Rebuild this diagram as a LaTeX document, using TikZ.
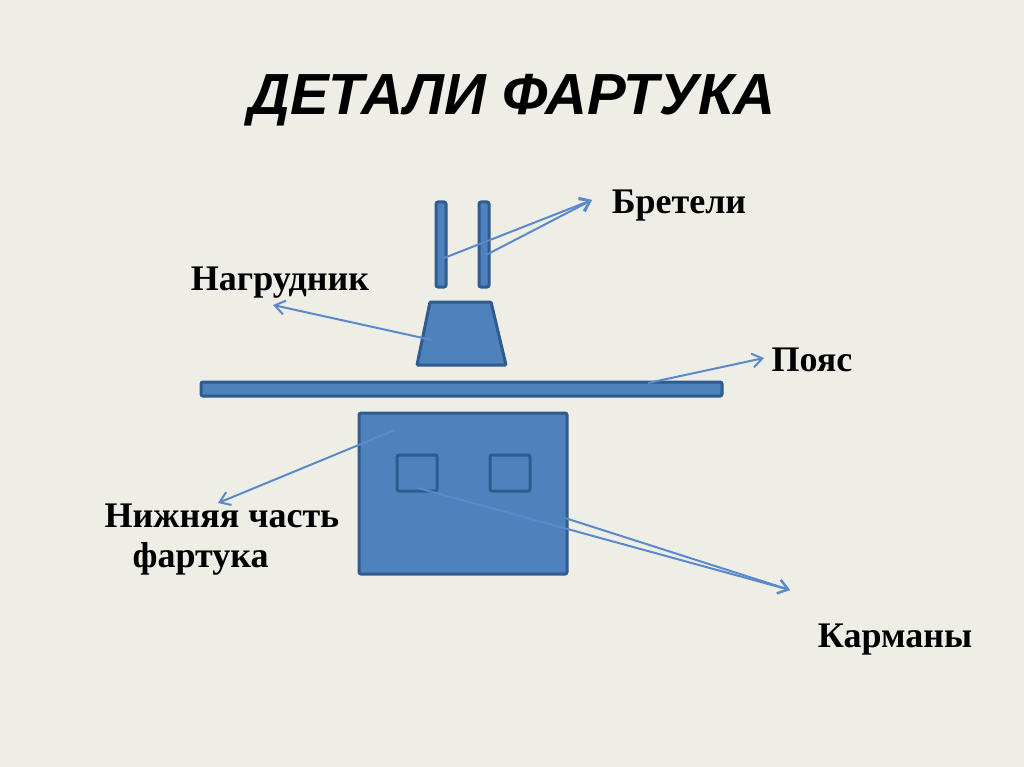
\documentclass[tikz,border=0pt]{standalone}
\usepackage{fontspec}
\setmainfont{Liberation Serif}
\newfontfamily\titlefont{Liberation Sans}
\begin{document}
\begin{tikzpicture}[x=1pt,y=-1pt,
  part/.style={fill=partfill,draw=partline,line width=3pt,rounded corners=2pt},
  lbl/.style={font=\fontsize{36}{40}\selectfont\bfseries,inner sep=0},
  ptr/.style={draw=ptrcol,line width=2pt,-{Straight Barb[length=10pt,width=14pt]}}]
\usetikzlibrary{arrows.meta}
\definecolor{bg}{HTML}{EEEDE6}
\definecolor{partfill}{HTML}{4F81BD}
\definecolor{partline}{HTML}{2F5C8F}
\definecolor{ptrcol}{HTML}{5A8ACB}
\fill[bg] (0,0) rectangle (1024,767);
\useasboundingbox (0,0) rectangle (1024,767);
\node[font=\titlefont\fontsize{58}{62}\selectfont\bfseries\itshape,inner sep=0] (title) at (512,100) {ДЕТАЛИ ФАРТУКА};
\draw[part] (436,202) rectangle (446,287);
\draw[part] (479,202) rectangle (489,287);
\draw[part,rounded corners=1pt] (430,302) -- (491,302) -- (506,365) -- (417,365) -- cycle;
\draw[part] (201,382) rectangle (722,396);
\draw[part] (359,413) rectangle (567,574);
\draw[part] (397,455) rectangle (437,491);
\draw[part] (490,455) rectangle (530,491);
\node[lbl] (bret) at (679,206) {Бретели};
\node[lbl] (nagr) at (280,283) {Нагрудник};
\node[lbl] (poyas) at (812,360) {Пояс};
\node[lbl,align=left] (niz) at (222,540) {Нижняя часть\\\hspace*{28pt}фартука};
\node[lbl] (karm) at (895,640) {Карманы};
\coordinate (b1) at (444,258); \coordinate (b2) at (486,255); \coordinate (bt) at (592,200);
\coordinate (n1) at (432,340); \coordinate (nt) at (273,305);
\coordinate (p1) at (648,383); \coordinate (pt) at (764,358);
\coordinate (z1) at (395,430); \coordinate (zt) at (218,503);
\coordinate (k1) at (418,488); \coordinate (k2) at (565,518); \coordinate (kt) at (790,590);
\draw[ptr] (b1) -- (bt);
\draw[ptr] (b2) -- (bt);
\draw[ptr] (n1) -- (nt);
\draw[ptr] (p1) -- (pt);
\draw[ptr] (z1) -- (zt);
\draw[ptr] (k1) -- (kt);
\draw[ptr] (k2) -- (kt);
\end{tikzpicture}
\end{document}
